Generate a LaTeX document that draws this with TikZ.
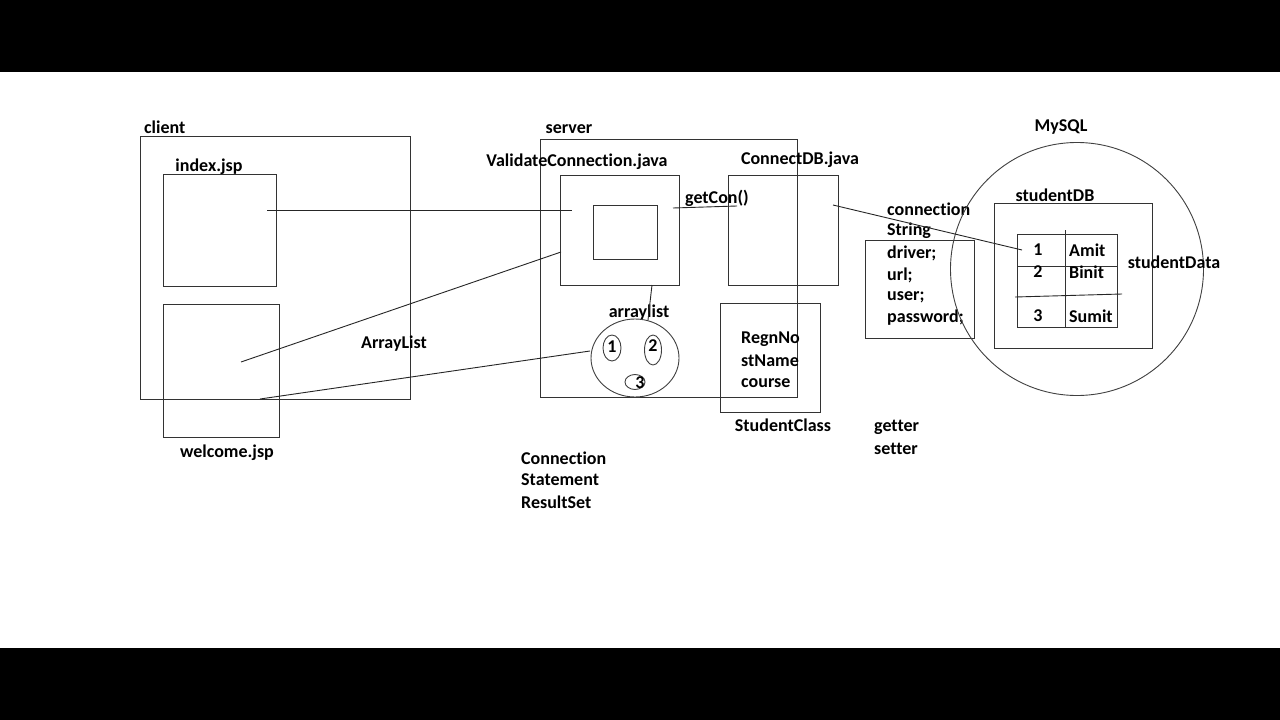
\documentclass[tikz,border=0pt]{standalone}
\usepackage{fontspec}
\setmainfont[Ligatures=NoCommon]{Carlito}
\usetikzlibrary{shapes.geometric}
\begin{document}
\begin{tikzpicture}[x=1pt,y=-1pt,
  lbl/.style={font=\fontsize{18}{20}\selectfont\bfseries, inner sep=0pt, text=black},
  lblw/.style={lbl, anchor=west},
  box/.style={draw=black!80, line width=1pt},
  wire/.style={draw=black!85, line width=0.9pt},
  ell/.style={draw=black!75, line width=0.9pt, ellipse, inner sep=0pt}]
\useasboundingbox (0,0) rectangle (1280,720);
\fill[white] (0,0) rectangle (1280,720);
\fill[black] (0,0) rectangle (1280,72);
\fill[black] (0,648) rectangle (1280,720);
% client
\draw[box] (140,136) rectangle (410,399);
\node[lblw] (clientL) at (144,127) {client};
\draw[box] (163,174) rectangle (276,286);
\node[lbl] (indexL) at (209,167) {index.jsp};
\draw[box] (163,304) rectangle (279,437);
\node[lbl] (welcomeL) at (227,453) {welcome.jsp};
\node[lbl] (arrL) at (394,344) {ArrayList};
% server
\draw[box] (540,139) rectangle (797,397);
\node[lbl] (serverL) at (569,129) {server};
\draw[box] (560,175) rectangle (679,285);
\node[lbl] (valL) at (577,162) {ValidateConnection.java};
\draw[box] (593,205) rectangle (657,259);
\draw[box] (728,175) rectangle (838,285);
\node[lbl] (conL) at (800,160) {ConnectDB.java};
\node[lbl] (getconL) at (717,198) {getCon()};
\node[lbl] (alL) at (639,313) {arraylist};
\node[ell, minimum width=88pt, minimum height=78pt] (al) at (635,358) {};
\node[ell, minimum width=18pt, minimum height=26pt] (e1) at (612,348) {};
\node[lbl] at (612,347) {1};
\node[ell, minimum width=17pt, minimum height=30pt] (e2) at (653,350) {};
\node[lbl] at (653,346) {2};
\node[ell, minimum width=20pt, minimum height=15pt] (e3) at (635,382) {};
\node[lbl] at (640,383) {3};
\draw[box] (720,303) rectangle (820,412);
\node[lblw] at (741,339) {RegnNo};
\node[lblw] at (741,361) {stName};
\node[lblw] at (741,383) {course};
\node[lbl] at (783,425) {StudentClass};
\node[lblw] at (521,458) {Connection};
\node[lblw] at (521,480) {Statement};
\node[lblw] at (521,502) {ResultSet};
\node[lblw] at (874,427) {getter};
\node[lblw] at (874,449) {setter};
% connection string
\draw[box] (865,240) rectangle (974,338);
\node[lblw] at (887,209) {connection};
\node[lblw] at (887,231) {String};
\node[lblw] at (887,253) {driver;};
\node[lblw] at (887,275) {url;};
\node[lblw] at (887,297) {user;};
\node[lblw] at (887,318) {password;};
% MySQL
\draw[draw=black!75, line width=0.9pt] (1077,269) circle (126.5);
\node[lbl] at (1061,127) {MySQL};
\draw[box] (994,203) rectangle (1152,348);
\node[lbl] at (1055,195) {studentDB};
\draw[box] (1017,234) rectangle (1117,327);
\draw[box] (1065,230) -- (1065,327);
\draw[box] (1017,266) -- (1118,266);
\draw[wire] (1015,297) -- (1122,294);
\node[lbl] at (1038,250) {1};
\node[lblw] at (1069,250) {Amit};
\node[lbl] at (1038,272) {2};
\node[lblw] at (1069,272) {Binit};
\node[lbl] at (1038,316) {3};
\node[lblw] at (1069,316) {Sumit};
\node[lbl] at (1174,262) {studentData};
% wires
\coordinate (w1a) at (267,210); \coordinate (w1b) at (572,210);
\coordinate (w2a) at (241,362); \coordinate (w2b) at (561,252);
\coordinate (w3a) at (260,399); \coordinate (w3b) at (590,351);
\coordinate (w4a) at (673,208); \coordinate (w4b) at (737,206);
\coordinate (w5a) at (833,205); \coordinate (w5b) at (1022,250);
\coordinate (w6a) at (652,285); \coordinate (w6b) at (648,320);
\draw[wire] (w1a) -- (w1b);
\draw[wire] (w2a) -- (w2b);
\draw[wire] (w3a) -- (w3b);
\draw[wire] (w4a) -- (w4b);
\draw[wire] (w5a) -- (w5b);
\draw[wire] (w6a) -- (w6b);
\end{tikzpicture}
\end{document}
